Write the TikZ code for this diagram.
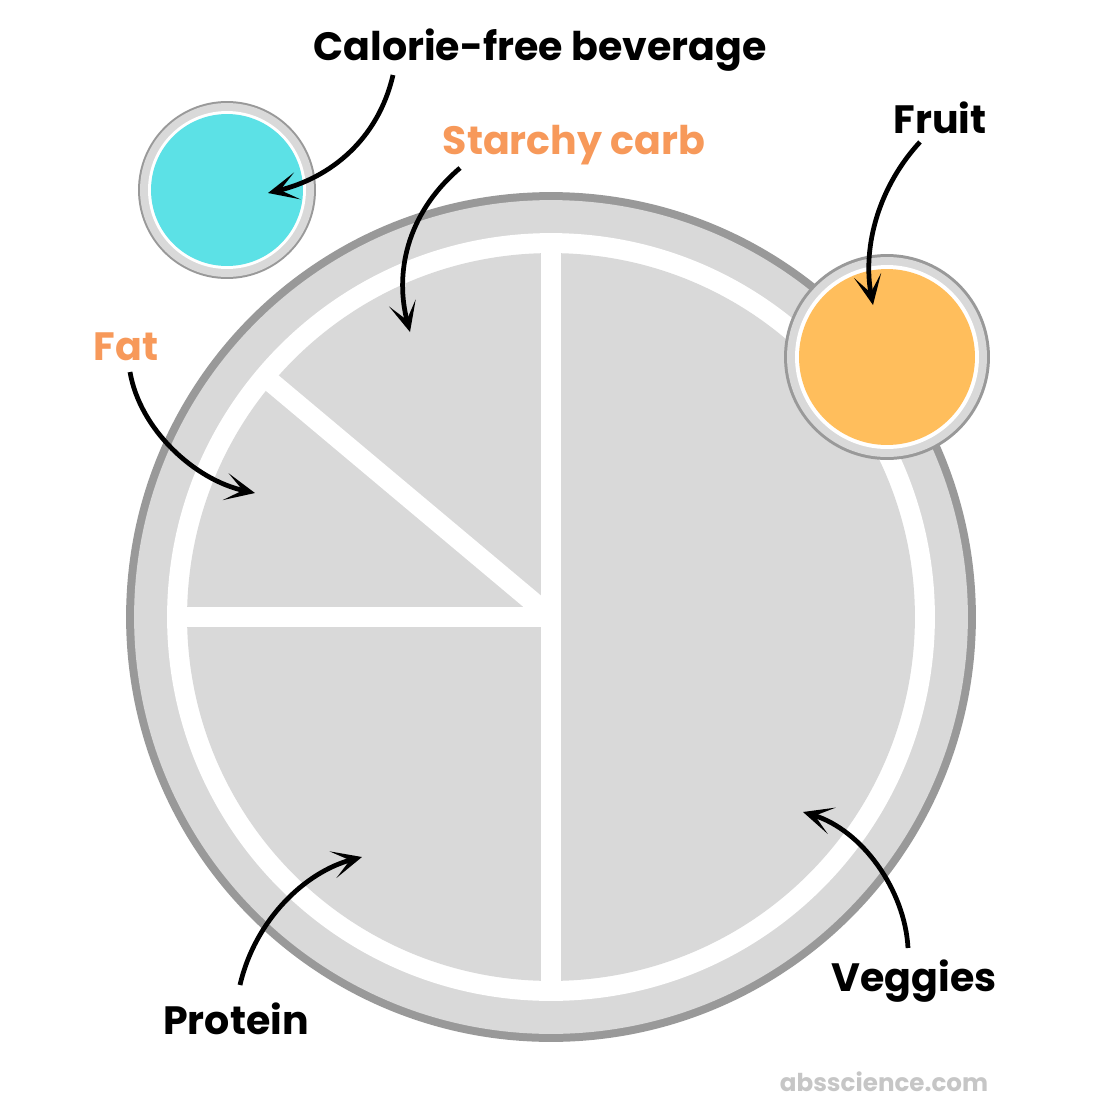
\documentclass[tikz,border=0pt]{standalone}
\usepackage{fontspec}
\setmainfont{Poppins}
\usetikzlibrary{arrows.meta}

\definecolor{platedark}{HTML}{999999}
\definecolor{plategray}{HTML}{D9D9D9}
\definecolor{drinkcyan}{HTML}{5CE1E6}
\definecolor{fruitorange}{HTML}{FFBE5C}
\definecolor{labelorange}{HTML}{F7995A}
\definecolor{markgray}{HTML}{C6C6C6}

\begin{document}
\begin{tikzpicture}[x=0.02cm, y=-0.02cm,
    lbl/.style={font=\fontsize{22.5}{27}\selectfont\bfseries, inner sep=0pt},
    pointer/.style={-{Stealth[length=0.6cm, width=0.55cm, inset=0.35cm]}, line width=2.7pt, black},
    divider/.style={white, line width=0.4cm},
  ]
  \fill[white] (0,0) rectangle (1100,1100);
  \useasboundingbox (0,0) rectangle (1100,1100);

  \coordinate (plate) at (551,617);
  \coordinate (drink) at (227,190);
  \coordinate (fruit) at (887,357);

  % plate
  \fill[platedark] (plate) circle[radius=8.5cm];
  \fill[plategray] (plate) circle[radius=8.34cm];
  \fill[white] (plate) circle[radius=7.68cm];
  \fill[plategray] (plate) circle[radius=7.28cm];

  \draw[divider] (551,242) -- (551,992);
  \draw[divider] (plate) -- (176,617);
  \draw[divider] (plate) -- ++(140:7.5cm);

  % glass and fruit bowl
  \fill[platedark] (drink) circle[radius=1.78cm];
  \fill[plategray] (drink) circle[radius=1.74cm];
  \fill[white] (drink) circle[radius=1.58cm];
  \fill[drinkcyan] (drink) circle[radius=1.52cm];

  \fill[platedark] (fruit) circle[radius=2.06cm];
  \fill[plategray] (fruit) circle[radius=2.0cm];
  \fill[white] (fruit) circle[radius=1.84cm];
  \fill[fruitorange] (fruit) circle[radius=1.76cm];

  % labels
  \node[lbl] (bevlabel) at (540,50) {Calorie-free beverage};
  \node[lbl, labelorange] (carblabel) at (574,145) {Starchy carb};
  \node[lbl] (fruitlabel) at (940,118) {Fruit};
  \node[lbl, labelorange] (fatlabel) at (126,347) {Fat};
  \node[lbl] (proteinlabel) at (236,1019) {Protein};
  \node[lbl] (veglabel) at (914,981) {Veggies};
  \node[font=\fontsize{14}{16}\selectfont\bfseries, markgray] (site) at (884,1082) {absscience.com};

  % arrows
  \coordinate (bevfrom) at (393,75);
  \coordinate (bevto) at (268,193);
  \coordinate (carbfrom) at (460,168);
  \coordinate (carbto) at (410,332);
  \coordinate (fruitfrom) at (920,142);
  \coordinate (fruitto) at (873,305);
  \coordinate (fatfrom) at (130,372);
  \coordinate (fatto) at (255,493);
  \coordinate (proteinfrom) at (240,985);
  \coordinate (proteinto) at (362,857);
  \coordinate (vegfrom) at (908,948);
  \coordinate (vegto) at (803,812);

  \draw[pointer] (bevfrom) .. controls (378,140) and (330,178) .. (bevto);
  \draw[pointer] (carbfrom) .. controls (405,215) and (395,275) .. (carbto);
  \draw[pointer] (fruitfrom) .. controls (880,185) and (862,245) .. (fruitto);
  \draw[pointer] (fatfrom) .. controls (140,430) and (195,480) .. (fatto);
  \draw[pointer] (proteinfrom) .. controls (255,920) and (305,872) .. (proteinto);
  \draw[pointer] (vegfrom) .. controls (905,890) and (862,830) .. (vegto);
\end{tikzpicture}
\end{document}
